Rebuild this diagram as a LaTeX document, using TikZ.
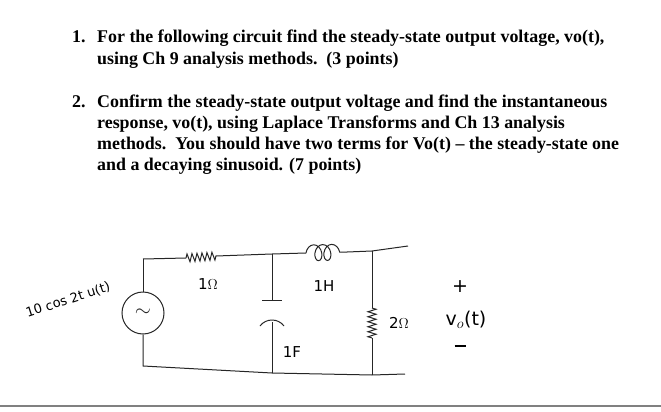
\documentclass[tikz,border=0pt]{standalone}
\usepackage{fontspec}
\setmainfont{Liberation Serif}
\newfontfamily\hand{DejaVu Sans}
\usetikzlibrary{decorations.pathmorphing}
\begin{document}
\begin{tikzpicture}[x=1pt,y=-1pt,
  q/.style={anchor=base west,font=\fontsize{17.9}{20}\selectfont\bfseries,inner sep=0},
  w/.style={line width=1pt,black!85},
  lbl/.style={font=\hand\fontsize{15}{18}\selectfont,inner sep=0},
  zz/.style={w,decorate,decoration={zigzag,amplitude=4pt,segment length=5pt}},
  cl/.style={w,decorate,decoration={coil,amplitude=8pt,segment length=9pt,aspect=0.7}}]
\useasboundingbox (0,0) rectangle (661,412);
\fill[white] (0,0) rectangle (661,412);
% text
\node[q] (n1) at (72,43) {1.};
\node[q] (t1a) at (97,43) {For the following circuit find the steady-state output voltage, vo(t),};
\node[q] (t1b) at (97,64) {using Ch 9 analysis methods.\ \ (3 points)};
\node[q] (n2) at (72,107) {2.};
\node[q] (t2a) at (97,107) {Confirm the steady-state output voltage and find the instantaneous};
\node[q] (t2b) at (97,128) {response, vo(t), using Laplace Transforms and Ch 13 analysis};
\node[q] (t2c) at (97,149) {methods.\ \ You should have two terms for Vo(t) -- the steady-state one};
\node[q] (t2d) at (97,170) {and a decaying sinusoid. (7 points)};
% circuit
\coordinate (tl) at (143,259);
\coordinate (r1a) at (186,258);
\coordinate (r1b) at (216,256);
\coordinate (nc) at (272,254);
\coordinate (la) at (306,253);
\coordinate (lb) at (347,252);
\coordinate (nr) at (372,251);
\coordinate (out) at (408,246);
\coordinate (bl) at (143,366);
\coordinate (bc) at (272,373);
\coordinate (br) at (372,375);
\coordinate (bo) at (405,374);
\node[circle,draw,w,minimum size=42pt,inner sep=0] (src) at (143,313) {\hand\fontsize{22}{22}\selectfont$\sim$};
\draw[w] (tl) -- (src.north);
\draw[w] (src.south) -- (bl) -- (bc) -- (br) -- (bo);
\draw[w] (tl) -- (r1a);
\draw[zz] (r1a) -- (r1b);
\draw[w] (r1b) -- (nc) -- (la);
\draw[cl] (la) -- (lb);
\draw[w] (lb) -- (nr) -- (out);
% capacitor
\coordinate (cp) at (272,300);
\coordinate (cq) at (272,322);
\draw[w] (nc) -- (cp);
\draw[w] (262,300) -- (282,300);
\draw[w] (260,326) .. controls (266,318) and (278,318) .. (284,326);
\draw[w] (cq) -- (bc);
% resistor 2
\coordinate (r2a) at (372,308);
\coordinate (r2b) at (372,338);
\draw[w] (nr) -- (r2a);
\draw[zz] (r2a) -- (r2b);
\draw[w] (r2b) -- (br);
% labels
\node[lbl] (l1) at (208,284) {1$\Omega$};
\node[lbl] (l2) at (324,286) {1H};
\node[lbl] (l3) at (292,352) {1F};
\node[lbl] (l4) at (399,323) {2$\Omega$};
\node[lbl,font=\hand\fontsize{19}{20}\selectfont] (vo) at (466,320) {v$_o$(t)};
\node[lbl,font=\hand\fontsize{19}{20}\selectfont] (pl) at (460,287) {+};
\node[lbl,font=\hand\fontsize{19}{20}\selectfont] (mi) at (460,346) {\rule{11pt}{1.2pt}};
\node[lbl,rotate=18,font=\hand\fontsize{13}{16}\selectfont] (srcl) at (68,300) {10 cos 2t u(t)};
\draw[gray,line width=1.5pt] (0,406) -- (661,406);
\end{tikzpicture}
\end{document}
